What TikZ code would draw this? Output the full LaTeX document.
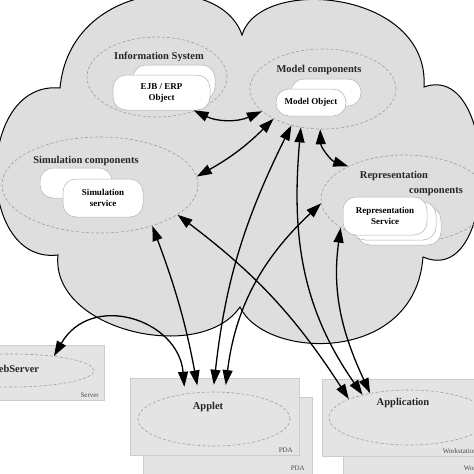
\documentclass[tikz,border=0pt]{standalone}
\usepackage{fontspec}
\setmainfont{Liberation Serif}
\usetikzlibrary{shapes.geometric,arrows.meta}
\definecolor{cloudfill}{RGB}{222,222,222}
\definecolor{hostfill}{RGB}{228,228,228}

\begin{document}
\begin{tikzpicture}[x=1pt,y=-1pt,
  comp/.style={ellipse,draw=gray!75,densely dashed,line width=0.6pt,inner sep=0pt},
  obj/.style={draw=gray!60,fill=white,line width=0.5pt,rounded corners=13pt,inner sep=0pt,align=center,font=\fontsize{9}{11}\selectfont\bfseries},
  host/.style={draw=gray!40,fill=hostfill,line width=0.6pt,inner sep=0pt},
  title/.style={font=\fontsize{10.5}{12}\selectfont\bfseries,text=black!85,inner sep=0pt},
  lbl/.style={font=\fontsize{7}{8}\selectfont,text=black!70,inner sep=0pt,anchor=base east},
  link/.style={line width=1.3pt,{Triangle[length=15pt,width=10pt]}-{Triangle[length=15pt,width=10pt]}}]
\def\objw{84pt};
\useasboundingbox (0,0) rectangle (474,474);
\clip (0,0) rectangle (474,474);

\draw[fill=cloudfill,line width=1pt](60,88) .. controls (70,-20) and (220,-30) .. (242,35)
  .. controls (260,-25) and (430,-10) .. (424,87)
  .. controls (500,60) and (500,290) .. (423,257)
  .. controls (415,365) and (265,360) .. (240,307)
  .. controls (200,365) and (50,330) .. (58,255)
  .. controls (-25,265) and (-25,80) .. cycle;

\node[comp,minimum width=140pt,minimum height=80pt] (info) at (157,77) {};
\node[comp,minimum width=146pt,minimum height=80pt] (model) at (323,89) {};
\node[comp,minimum width=196pt,minimum height=96pt] (sim) at (100,185) {};
\node[comp,minimum width=168pt,minimum height=88pt] (rep) at (405,199) {};

\node[obj,minimum width=82pt,minimum height=35pt] (ejbback) at (174,82.5) {};
\node[obj,minimum width=97pt,minimum height=35pt] (ejb) at (161.5,92.5) {EJB / ERP\\Object};
\node[obj,minimum width=70pt,minimum height=27pt] (modelback) at (326,92.5) {};
\node[obj,minimum width=70pt,minimum height=27pt] (modelobj) at (311,102.5) {Model Object};
\node[obj,minimum width=72pt,minimum height=30pt] (simback) at (76,183) {};
\node[obj,minimum width=80pt,minimum height=38pt] (simsrv) at (103,198) {Simulation\\service};
\node[obj,minimum width=\objw,minimum height=38pt] (repback2) at (399,226) {};
\node[obj,minimum width=\objw,minimum height=38pt] (repback1) at (394,221) {};
\node[obj,minimum width=\objw,minimum height=38pt] (repsrv) at (385,216) {Representation\\Service};

\node[title] (infotitle) at (159,57) {Information System};
\node[title] (modeltitle) at (319,70) {Model components};
\node[title] (simtitle) at (86,161) {Simulation components};
\node[title] (reptitle) at (394,176) {Representation};
\node[title] (reptitle2) at (436,192) {components};

\node[host,minimum width=124pt,minimum height=55pt] (server) at (42,372.5) {};
\node[host,minimum width=169pt,minimum height=93pt] (pdaback) at (227.5,443.5) {};
\node[host,minimum width=169pt,minimum height=77pt] (pda) at (214.5,416.5) {};
\node[host,minimum width=158pt,minimum height=93pt] (wsback) at (422,443.5) {};
\node[host,minimum width=158pt,minimum height=77pt] (ws) at (401,417.5) {};

\node[comp,minimum width=164pt,minimum height=33pt] (websrv) at (12,370.5) {};
\node[comp,minimum width=152pt,minimum height=54pt] (applet) at (214,419) {};
\node[comp,minimum width=160pt,minimum height=55pt] (app) at (409,417.5) {};

\node[title] (webtitle) at (14,369) {WebServer};
\node[title] (applettitle) at (208,407) {Applet};
\node[title] (apptitle) at (403,403) {Application};

\node[lbl] (serverlbl) at (99,397) {Server};
\node[lbl] (pdabacklbl) at (305,470) {PDA};
\node[lbl] (pdalbl) at (293,452) {PDA};
\node[lbl] (wsbacklbl) at (498,470) {Workstation};
\node[lbl] (wslbl) at (477,453) {Workstation};

\draw[link](ejb.-29) to[bend right=25] (model.200);
\draw[link](sim.5) to[bend right=8] (model.211);
\draw[link](model.266) to[bend right=35] (rep.150);
\draw[link,shorten <=7pt](applet.92) to[bend left=10] (model.229);
\draw[link,shorten <=7pt](applet.120) to[bend right=5] (sim.-38);
\draw[link,shorten <=7pt](applet.68) to[bend left=20] (rep.183);
\draw[link,shorten >=7pt](websrv.19) to[out=60,in=95,looseness=1.4] (applet.139);
\draw[link](sim.-21) to[bend left=10] (app.163);
\draw[link](model.240) to[out=-95,in=125] (app.154);
\draw[link](rep.204) to[out=-98,in=115] (app.148);

\end{tikzpicture}
\end{document}
